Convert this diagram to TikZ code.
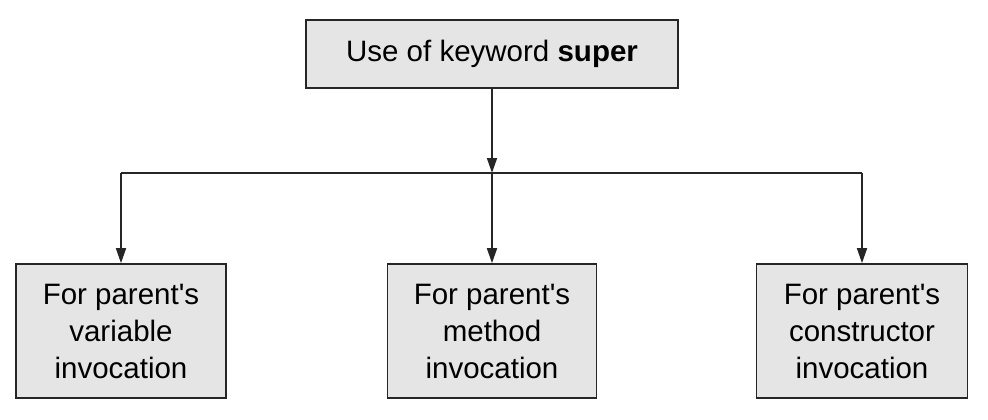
\documentclass[tikz,border=0pt]{standalone}
\usepackage{fontspec}
\setmainfont{Liberation Sans}
\usetikzlibrary{arrows.meta}
\begin{document}
\begin{tikzpicture}[x=1pt,y=-1pt,
  box/.style={draw=black!85,line width=1.6pt,fill=black!10,align=center,font=\fontsize{29.5}{37}\selectfont,inner sep=0pt},
  conn/.style={line width=1.6pt,draw=black!85,-{Triangle[length=15pt,width=10pt]}}]
\useasboundingbox (0,0) rectangle (988,420);
\node[box,minimum width=372pt,minimum height=68pt] (top) at (492,54) {Use of keyword \textbf{super}};
\node[box,minimum width=210pt,minimum height=134pt] (l) at (121,331) {For parent\textquotesingle s\\variable\\invocation};
\node[box,minimum width=209pt,minimum height=134pt] (m) at (492,331) {For parent\textquotesingle s\\method\\invocation};
\node[box,minimum width=211pt,minimum height=134pt] (r) at (862,331) {For parent\textquotesingle s\\constructor\\invocation};
\coordinate (j) at (top.south |- 0,173);
\draw[conn] (top.south) -- (j);
\draw[conn] (j) -- (m.north);
\draw[line width=1.6pt,draw=black!85] (l.north |- j) -- (r.north |- j);
\draw[conn] (l.north |- j) -- (l.north);
\draw[conn] (r.north |- j) -- (r.north);
\end{tikzpicture}
\end{document}
